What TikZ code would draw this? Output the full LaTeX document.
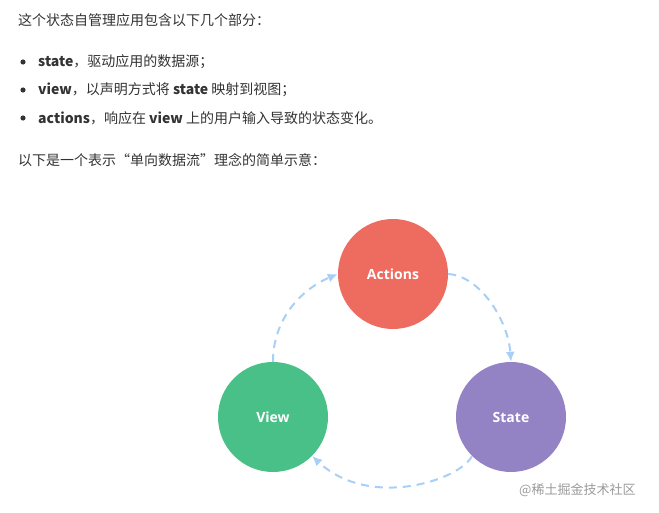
\documentclass[tikz,border=0pt]{standalone}
\usepackage{fontspec}
\usetikzlibrary{arrows.meta}
\setmainfont{Noto Sans CJK SC}
\newfontfamily\labelfont{Open Sans}
\definecolor{txtgray}{HTML}{333333}
\definecolor{actred}{HTML}{EE6B5F}
\definecolor{viewgreen}{HTML}{48C088}
\definecolor{statepurple}{HTML}{9483C4}
\definecolor{flowblue}{HTML}{A8CFF8}
\definecolor{markgray}{HTML}{9A9A9A}
\tikzset{
  para/.style={anchor=west, inner sep=0pt, text=txtgray, font=\fontsize{14}{16}\selectfont},
  part/.style={circle, minimum size=110pt, inner sep=0pt, text=white, font=\labelfont\bfseries\fontsize{14}{16}\selectfont},
  flow/.style={flowblue, line width=2pt, dash pattern=on 8pt off 6pt, -{Latex[length=10pt,width=9pt]}},
}
\begin{document}
\begin{tikzpicture}[x=1pt,y=-1pt]
 	\useasboundingbox (0,0) rectangle (659,513);
 	% text
 	\node[para] (intro) at (18,20) {这个状态自管理应用包含以下几个部分：};
 	\foreach \y/\t [count=\i] in {62/{\textbf{state}，驱动应用的数据源；},
 	    90/{\textbf{view}，以声明方式将 \textbf{state} 映射到视图；},
 	    118/{\textbf{actions}，响应在 \textbf{view} 上的用户输入导致的状态变化。}} {
 	  \fill[txtgray] (23,\y) circle (2.6pt);
 	  \node[para] (item\i) at (38,\y) {\t};
 	}
 	\node[para] (outro) at (18,160) {以下是一个表示“单向数据流”理念的简单示意：};
 	% circles
 	\node[part, fill=actred] (actions) at (393,274) {Actions};
 	\node[part, fill=viewgreen] (view) at (273,417) {View};
 	\node[part, fill=statepurple] (state) at (511,417) {State};
 	% flow
 	\draw[flow] (view.north) .. controls (273,320) and (300,290) .. (actions.west);
 	\draw[flow] (actions.east) .. controls (480,276) and (508,320) .. (state.north);
 	\draw[flow] (state.-135) .. controls (460,480) and (370,510) .. (view.-45);
 	\node[anchor=west, inner sep=0pt, text=markgray, font=\fontsize{13}{15}\selectfont] (mark) at (519,490) {@稀土掘金技术社区};
\end{tikzpicture}
\end{document}
